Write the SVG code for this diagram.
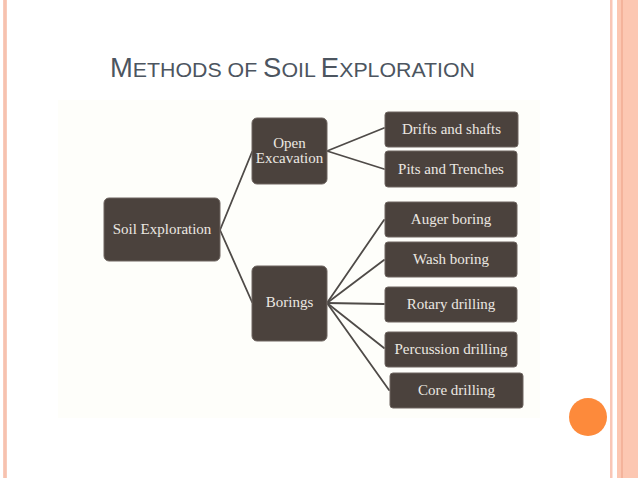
<svg xmlns="http://www.w3.org/2000/svg" width="638" height="478" viewBox="0 0 638 478">
<style>
.node rect{fill:#4b423d;stroke:#6e6560;stroke-width:1}
.node text{fill:#ece8e2;font-family:"Liberation Serif","Times New Roman",serif;font-size:15px;text-anchor:middle}
.conn line{stroke:#4f4b48;stroke-width:1.8;stroke-linecap:round}
</style>
<rect width="638" height="478" fill="#ffffff"/>
<rect x="58" y="100" width="482" height="318" fill="#fefefa"/>
<rect x="3" y="0" width="4" height="478" fill="#f9cbbb"/>
<rect x="4.5" y="0" width="1" height="478" fill="#f4b9a4"/>
<rect x="610" y="0" width="2.5" height="478" fill="#f9c6b6"/>
<rect x="617" y="0" width="21" height="478" fill="#fcc7b2"/>
<rect x="621" y="0" width="2" height="478" fill="#f4b39b"/>
<circle cx="588" cy="417" r="19" fill="#fd8a3b"/>
<text x="110" y="77" font-family="Liberation Sans,Arial,sans-serif" font-size="21" fill="#4c5560" textLength="365" lengthAdjust="spacingAndGlyphs"><tspan font-size="27">M</tspan>ETHODS OF <tspan font-size="27">S</tspan>OIL <tspan font-size="27">E</tspan>XPLORATION</text>
<g class="conn">
<line x1="220" y1="230" x2="252" y2="152"/>
<line x1="220" y1="230" x2="252" y2="302"/>
<line x1="327" y1="151" x2="384" y2="128"/>
<line x1="327" y1="151" x2="384" y2="169"/>
<line x1="327" y1="303" x2="384" y2="220"/>
<line x1="327" y1="303" x2="384" y2="260"/>
<line x1="327" y1="303" x2="384" y2="304"/>
<line x1="327" y1="303" x2="384" y2="348"/>
<line x1="327" y1="303" x2="389" y2="390"/>
</g>
<g id="soil-exploration" class="node"><rect x="104" y="198" width="116" height="63" rx="5"/><text x="162" y="234">Soil Exploration</text></g>
<g id="open-excavation" class="node"><rect x="252" y="118" width="75" height="66" rx="5"/><text x="289.5" y="148">Open</text><text x="289.5" y="163">Excavation</text></g>
<g id="borings" class="node"><rect x="252" y="266" width="75" height="75" rx="5"/><text x="289.5" y="307">Borings</text></g>
<g id="drifts" class="node"><rect x="385" y="112" width="133" height="35" rx="3"/><text x="451.5" y="134">Drifts and shafts</text></g>
<g id="pits" class="node"><rect x="385" y="151" width="132" height="36" rx="3"/><text x="451" y="174">Pits and Trenches</text></g>
<g id="auger" class="node"><rect x="385" y="202" width="132" height="35" rx="3"/><text x="451" y="224">Auger boring</text></g>
<g id="wash" class="node"><rect x="385" y="242" width="132" height="35" rx="3"/><text x="451" y="264">Wash boring</text></g>
<g id="rotary" class="node"><rect x="385" y="287" width="132" height="35" rx="3"/><text x="451" y="309">Rotary drilling</text></g>
<g id="percussion" class="node"><rect x="385" y="332" width="132" height="35" rx="3"/><text x="451" y="354">Percussion drilling</text></g>
<g id="core" class="node"><rect x="390" y="373" width="133" height="35" rx="3"/><text x="456.5" y="395">Core drilling</text></g>
</svg>
